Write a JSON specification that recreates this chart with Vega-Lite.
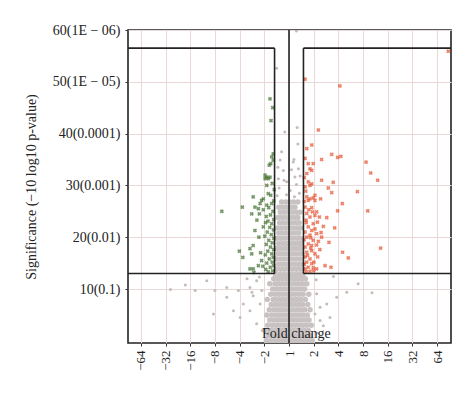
{
"$schema":"https://vega.github.io/schema/vega-lite/v6.json",
"width":323,"height":313,
"autosize":{"type":"none"},
"padding":{"left":128,"top":30,"right":23,"bottom":52},
"background":"white",
"datasets":{
"pts":[
{"fc":0.3,"sig":59.8,"grp":"ns"},{"fc":-0.5,"sig":52.6,"grp":"ns"},{"fc":0.33,"sig":41.2,"grp":"ns"},{"fc":-0.17,"sig":40.3,"grp":"ns"},{"fc":0.36,"sig":38.0,"grp":"ns"},{"fc":-0.3,"sig":36.5,"grp":"ns"},{"fc":0.2,"sig":35.0,"grp":"ns"},{"fc":-0.36,"sig":34.9,"grp":"ns"},{"fc":0.17,"sig":34.5,"grp":"ns"},{"fc":-0.45,"sig":33.5,"grp":"ns"},{"fc":-0.23,"sig":32.9,"grp":"ns"},{"fc":0.38,"sig":33.2,"grp":"ns"},{"fc":0.1,"sig":33.0,"grp":"ns"},{"fc":0.45,"sig":31.8,"grp":"ns"},{"fc":-0.43,"sig":31.3,"grp":"ns"},{"fc":0.24,"sig":31.6,"grp":"ns"},{"fc":-0.2,"sig":31.0,"grp":"ns"},{"fc":-0.09,"sig":30.7,"grp":"ns"},{"fc":0.3,"sig":30.2,"grp":"ns"},{"fc":-0.4,"sig":29.5,"grp":"ns"},{"fc":0.05,"sig":29.0,"grp":"ns"},{"fc":0.42,"sig":28.5,"grp":"ns"},{"fc":-0.1,"sig":28.2,"grp":"ns"},{"fc":-0.48,"sig":28.0,"grp":"ns"},{"fc":0.22,"sig":27.8,"grp":"ns"},
{"fc":-0.3,"sig":26.8,"grp":"ns"},{"fc":-0.13,"sig":26.8,"grp":"ns"},{"fc":0.03,"sig":26.8,"grp":"ns"},{"fc":0.19,"sig":26.8,"grp":"ns"},{"fc":0.36,"sig":26.8,"grp":"ns"},
{"fc":-0.41,"sig":25.8,"grp":"ns"},{"fc":-0.25,"sig":25.8,"grp":"ns"},{"fc":-0.08,"sig":25.8,"grp":"ns"},{"fc":0.08,"sig":25.8,"grp":"ns"},{"fc":0.24,"sig":25.8,"grp":"ns"},
{"fc":-0.35,"sig":24.8,"grp":"ns"},{"fc":-0.19,"sig":24.8,"grp":"ns"},{"fc":-0.02,"sig":24.8,"grp":"ns"},{"fc":0.13,"sig":24.8,"grp":"ns"},{"fc":0.3,"sig":24.8,"grp":"ns"},{"fc":0.44,"sig":24.8,"grp":"ns"},
{"fc":-0.44,"sig":23.8,"grp":"ns"},{"fc":-0.28,"sig":23.8,"grp":"ns"},{"fc":-0.12,"sig":23.8,"grp":"ns"},{"fc":0.04,"sig":23.8,"grp":"ns"},{"fc":0.2,"sig":23.8,"grp":"ns"},{"fc":0.36,"sig":23.8,"grp":"ns"},
{"fc":-0.38,"sig":22.8,"grp":"ns"},{"fc":-0.22,"sig":22.8,"grp":"ns"},{"fc":-0.06,"sig":22.8,"grp":"ns"},{"fc":0.1,"sig":22.8,"grp":"ns"},{"fc":0.26,"sig":22.8,"grp":"ns"},{"fc":0.41,"sig":22.8,"grp":"ns"},
{"fc":-0.47,"sig":21.8,"grp":"ns"},{"fc":-0.31,"sig":21.8,"grp":"ns"},{"fc":-0.15,"sig":21.8,"grp":"ns"},{"fc":0.02,"sig":21.8,"grp":"ns"},{"fc":0.17,"sig":21.8,"grp":"ns"},{"fc":0.33,"sig":21.8,"grp":"ns"},{"fc":0.47,"sig":21.8,"grp":"ns"},
{"fc":-0.41,"sig":20.8,"grp":"ns"},{"fc":-0.25,"sig":20.8,"grp":"ns"},{"fc":-0.09,"sig":20.8,"grp":"ns"},{"fc":0.07,"sig":20.8,"grp":"ns"},{"fc":0.23,"sig":20.8,"grp":"ns"},{"fc":0.39,"sig":20.8,"grp":"ns"},
{"fc":-0.49,"sig":19.8,"grp":"ns"},{"fc":-0.33,"sig":19.8,"grp":"ns"},{"fc":-0.17,"sig":19.8,"grp":"ns"},{"fc":0.0,"sig":19.8,"grp":"ns"},{"fc":0.15,"sig":19.8,"grp":"ns"},{"fc":0.31,"sig":19.8,"grp":"ns"},{"fc":0.45,"sig":19.8,"grp":"ns"},
{"fc":-0.42,"sig":18.8,"grp":"ns"},{"fc":-0.26,"sig":18.8,"grp":"ns"},{"fc":-0.1,"sig":18.8,"grp":"ns"},{"fc":0.06,"sig":18.8,"grp":"ns"},{"fc":0.22,"sig":18.8,"grp":"ns"},{"fc":0.38,"sig":18.8,"grp":"ns"},{"fc":0.5,"sig":18.8,"grp":"ns"},
{"fc":-0.5,"sig":17.8,"grp":"ns"},{"fc":-0.34,"sig":17.8,"grp":"ns"},{"fc":-0.18,"sig":17.8,"grp":"ns"},{"fc":-0.02,"sig":17.8,"grp":"ns"},{"fc":0.14,"sig":17.8,"grp":"ns"},{"fc":0.3,"sig":17.8,"grp":"ns"},{"fc":0.46,"sig":17.8,"grp":"ns"},
{"fc":-0.43,"sig":16.8,"grp":"ns"},{"fc":-0.27,"sig":16.8,"grp":"ns"},{"fc":-0.11,"sig":16.8,"grp":"ns"},{"fc":0.05,"sig":16.8,"grp":"ns"},{"fc":0.21,"sig":16.8,"grp":"ns"},{"fc":0.37,"sig":16.8,"grp":"ns"},{"fc":0.52,"sig":16.8,"grp":"ns"},
{"fc":-0.51,"sig":15.8,"grp":"ns"},{"fc":-0.35,"sig":15.8,"grp":"ns"},{"fc":-0.19,"sig":15.8,"grp":"ns"},{"fc":-0.03,"sig":15.8,"grp":"ns"},{"fc":0.13,"sig":15.8,"grp":"ns"},{"fc":0.29,"sig":15.8,"grp":"ns"},{"fc":0.45,"sig":15.8,"grp":"ns"},
{"fc":-0.42,"sig":14.8,"grp":"ns"},{"fc":-0.26,"sig":14.8,"grp":"ns"},{"fc":-0.1,"sig":14.8,"grp":"ns"},{"fc":0.06,"sig":14.8,"grp":"ns"},{"fc":0.22,"sig":14.8,"grp":"ns"},{"fc":0.38,"sig":14.8,"grp":"ns"},{"fc":0.53,"sig":14.8,"grp":"ns"},
{"fc":-0.5,"sig":13.8,"grp":"ns"},{"fc":-0.34,"sig":13.8,"grp":"ns"},{"fc":-0.18,"sig":13.8,"grp":"ns"},{"fc":-0.02,"sig":13.8,"grp":"ns"},{"fc":0.14,"sig":13.8,"grp":"ns"},{"fc":0.3,"sig":13.8,"grp":"ns"},{"fc":0.46,"sig":13.8,"grp":"ns"},
{"fc":-0.54,"sig":12.8,"grp":"ns"},{"fc":-0.38,"sig":12.8,"grp":"ns"},{"fc":-0.22,"sig":12.8,"grp":"ns"},{"fc":-0.06,"sig":12.8,"grp":"ns"},{"fc":0.1,"sig":12.8,"grp":"ns"},{"fc":0.26,"sig":12.8,"grp":"ns"},{"fc":0.42,"sig":12.8,"grp":"ns"},{"fc":0.56,"sig":12.8,"grp":"ns"},
{"fc":-0.62,"sig":12.0,"grp":"ns"},{"fc":-0.46,"sig":12.0,"grp":"ns"},{"fc":-0.3,"sig":12.0,"grp":"ns"},{"fc":-0.14,"sig":12.0,"grp":"ns"},{"fc":0.02,"sig":12.0,"grp":"ns"},{"fc":0.18,"sig":12.0,"grp":"ns"},{"fc":0.34,"sig":12.0,"grp":"ns"},{"fc":0.5,"sig":12.0,"grp":"ns"},{"fc":0.66,"sig":12.0,"grp":"ns"},
{"fc":-0.78,"sig":11.0,"grp":"ns"},{"fc":-0.57,"sig":11.0,"grp":"ns"},{"fc":-0.41,"sig":11.0,"grp":"ns"},{"fc":-0.25,"sig":11.0,"grp":"ns"},{"fc":-0.09,"sig":11.0,"grp":"ns"},{"fc":0.07,"sig":11.0,"grp":"ns"},{"fc":0.23,"sig":11.0,"grp":"ns"},{"fc":0.39,"sig":11.0,"grp":"ns"},{"fc":0.55,"sig":11.0,"grp":"ns"},{"fc":0.72,"sig":11.0,"grp":"ns"},
{"fc":-0.66,"sig":10.0,"grp":"ns"},{"fc":-0.49,"sig":10.0,"grp":"ns"},{"fc":-0.33,"sig":10.0,"grp":"ns"},{"fc":-0.17,"sig":10.0,"grp":"ns"},{"fc":-0.01,"sig":10.0,"grp":"ns"},{"fc":0.15,"sig":10.0,"grp":"ns"},{"fc":0.31,"sig":10.0,"grp":"ns"},{"fc":0.47,"sig":10.0,"grp":"ns"},{"fc":0.63,"sig":10.0,"grp":"ns"},
{"fc":-0.74,"sig":9.0,"grp":"ns"},{"fc":-0.56,"sig":9.0,"grp":"ns"},{"fc":-0.4,"sig":9.0,"grp":"ns"},{"fc":-0.24,"sig":9.0,"grp":"ns"},{"fc":-0.08,"sig":9.0,"grp":"ns"},{"fc":0.08,"sig":9.0,"grp":"ns"},{"fc":0.24,"sig":9.0,"grp":"ns"},{"fc":0.4,"sig":9.0,"grp":"ns"},{"fc":0.57,"sig":9.0,"grp":"ns"},{"fc":0.8,"sig":9.0,"grp":"ns"},
{"fc":-0.88,"sig":8.0,"grp":"ns"},{"fc":-0.64,"sig":8.0,"grp":"ns"},{"fc":-0.48,"sig":8.0,"grp":"ns"},{"fc":-0.32,"sig":8.0,"grp":"ns"},{"fc":-0.16,"sig":8.0,"grp":"ns"},{"fc":0.0,"sig":8.0,"grp":"ns"},{"fc":0.16,"sig":8.0,"grp":"ns"},{"fc":0.32,"sig":8.0,"grp":"ns"},{"fc":0.48,"sig":8.0,"grp":"ns"},{"fc":0.66,"sig":8.0,"grp":"ns"},
{"fc":-0.72,"sig":7.0,"grp":"ns"},{"fc":-0.55,"sig":7.0,"grp":"ns"},{"fc":-0.39,"sig":7.0,"grp":"ns"},{"fc":-0.23,"sig":7.0,"grp":"ns"},{"fc":-0.08,"sig":7.0,"grp":"ns"},{"fc":0.08,"sig":7.0,"grp":"ns"},{"fc":0.24,"sig":7.0,"grp":"ns"},{"fc":0.4,"sig":7.0,"grp":"ns"},{"fc":0.56,"sig":7.0,"grp":"ns"},{"fc":0.76,"sig":7.0,"grp":"ns"},
{"fc":-0.8,"sig":6.0,"grp":"ns"},{"fc":-0.62,"sig":6.0,"grp":"ns"},{"fc":-0.46,"sig":6.0,"grp":"ns"},{"fc":-0.31,"sig":6.0,"grp":"ns"},{"fc":-0.16,"sig":6.0,"grp":"ns"},{"fc":0.0,"sig":6.0,"grp":"ns"},{"fc":0.16,"sig":6.0,"grp":"ns"},{"fc":0.32,"sig":6.0,"grp":"ns"},{"fc":0.48,"sig":6.0,"grp":"ns"},{"fc":0.64,"sig":6.0,"grp":"ns"},{"fc":0.85,"sig":6.0,"grp":"ns"},
{"fc":-0.9,"sig":5.0,"grp":"ns"},{"fc":-0.7,"sig":5.0,"grp":"ns"},{"fc":-0.53,"sig":5.0,"grp":"ns"},{"fc":-0.38,"sig":5.0,"grp":"ns"},{"fc":-0.22,"sig":5.0,"grp":"ns"},{"fc":-0.07,"sig":5.0,"grp":"ns"},{"fc":0.09,"sig":5.0,"grp":"ns"},{"fc":0.25,"sig":5.0,"grp":"ns"},{"fc":0.4,"sig":5.0,"grp":"ns"},{"fc":0.56,"sig":5.0,"grp":"ns"},{"fc":0.74,"sig":5.0,"grp":"ns"},
{"fc":-0.78,"sig":4.0,"grp":"ns"},{"fc":-0.61,"sig":4.0,"grp":"ns"},{"fc":-0.45,"sig":4.0,"grp":"ns"},{"fc":-0.3,"sig":4.0,"grp":"ns"},{"fc":-0.15,"sig":4.0,"grp":"ns"},{"fc":0.01,"sig":4.0,"grp":"ns"},{"fc":0.17,"sig":4.0,"grp":"ns"},{"fc":0.33,"sig":4.0,"grp":"ns"},{"fc":0.49,"sig":4.0,"grp":"ns"},{"fc":0.65,"sig":4.0,"grp":"ns"},{"fc":0.81,"sig":4.0,"grp":"ns"},
{"fc":-0.86,"sig":3.0,"grp":"ns"},{"fc":-0.68,"sig":3.0,"grp":"ns"},{"fc":-0.52,"sig":3.0,"grp":"ns"},{"fc":-0.37,"sig":3.0,"grp":"ns"},{"fc":-0.21,"sig":3.0,"grp":"ns"},{"fc":-0.06,"sig":3.0,"grp":"ns"},{"fc":0.11,"sig":3.0,"grp":"ns"},{"fc":0.26,"sig":3.0,"grp":"ns"},{"fc":0.41,"sig":3.0,"grp":"ns"},{"fc":0.56,"sig":3.0,"grp":"ns"},{"fc":0.72,"sig":3.0,"grp":"ns"},{"fc":0.9,"sig":3.0,"grp":"ns"},
{"fc":-0.97,"sig":2.0,"grp":"ns"},{"fc":-0.76,"sig":2.0,"grp":"ns"},{"fc":-0.6,"sig":2.0,"grp":"ns"},{"fc":-0.44,"sig":2.0,"grp":"ns"},{"fc":-0.29,"sig":2.0,"grp":"ns"},{"fc":-0.14,"sig":2.0,"grp":"ns"},{"fc":0.03,"sig":2.0,"grp":"ns"},{"fc":0.18,"sig":2.0,"grp":"ns"},{"fc":0.33,"sig":2.0,"grp":"ns"},{"fc":0.48,"sig":2.0,"grp":"ns"},{"fc":0.63,"sig":2.0,"grp":"ns"},{"fc":0.79,"sig":2.0,"grp":"ns"},
{"fc":-0.83,"sig":1.0,"grp":"ns"},{"fc":-0.66,"sig":1.0,"grp":"ns"},{"fc":-0.5,"sig":1.0,"grp":"ns"},{"fc":-0.35,"sig":1.0,"grp":"ns"},{"fc":-0.2,"sig":1.0,"grp":"ns"},{"fc":-0.05,"sig":1.0,"grp":"ns"},{"fc":0.1,"sig":1.0,"grp":"ns"},{"fc":0.25,"sig":1.0,"grp":"ns"},{"fc":0.4,"sig":1.0,"grp":"ns"},{"fc":0.55,"sig":1.0,"grp":"ns"},{"fc":0.7,"sig":1.0,"grp":"ns"},{"fc":0.86,"sig":1.0,"grp":"ns"},
{"fc":-0.92,"sig":0.0,"grp":"ns"},{"fc":-0.74,"sig":0.0,"grp":"ns"},{"fc":-0.58,"sig":0.0,"grp":"ns"},{"fc":-0.43,"sig":0.0,"grp":"ns"},{"fc":-0.28,"sig":0.0,"grp":"ns"},{"fc":-0.13,"sig":0.0,"grp":"ns"},{"fc":0.02,"sig":0.0,"grp":"ns"},{"fc":0.17,"sig":0.0,"grp":"ns"},{"fc":0.32,"sig":0.0,"grp":"ns"},{"fc":0.47,"sig":0.0,"grp":"ns"},{"fc":0.62,"sig":0.0,"grp":"ns"},{"fc":0.78,"sig":0.0,"grp":"ns"},{"fc":0.93,"sig":0.0,"grp":"ns"},
{"fc":-3.0,"sig":9.7,"grp":"ns"},{"fc":-2.52,"sig":10.3,"grp":"ns"},{"fc":-2.05,"sig":9.7,"grp":"ns"},{"fc":-1.58,"sig":10.3,"grp":"ns"},{"fc":-1.31,"sig":11.6,"grp":"ns"},{"fc":-1.45,"sig":8.7,"grp":"ns"},{"fc":-1.85,"sig":7.1,"grp":"ns"},{"fc":-3.06,"sig":5.2,"grp":"ns"},{"fc":-2.25,"sig":5.8,"grp":"ns"},{"fc":-1.1,"sig":9.7,"grp":"ns"},{"fc":-3.33,"sig":11.6,"grp":"ns"},{"fc":1.12,"sig":9.1,"grp":"ns"},{"fc":1.53,"sig":7.1,"grp":"ns"},{"fc":1.26,"sig":6.5,"grp":"ns"},{"fc":1.93,"sig":8.4,"grp":"ns"},{"fc":1.66,"sig":4.5,"grp":"ns"},{"fc":1.26,"sig":3.9,"grp":"ns"},{"fc":2.34,"sig":9.4,"grp":"ns"},{"fc":1.39,"sig":2.9,"grp":"ns"},{"fc":-1.5,"sig":9.4,"grp":"ns"},{"fc":-1.17,"sig":7.1,"grp":"ns"},{"fc":-1.58,"sig":5.8,"grp":"ns"},{"fc":-1.31,"sig":3.3,"grp":"ns"},{"fc":-1.98,"sig":4.5,"grp":"ns"},{"fc":-2.52,"sig":8.4,"grp":"ns"},{"fc":-3.8,"sig":9.7,"grp":"ns"},{"fc":3.36,"sig":9.3,"grp":"ns"},{"fc":-1.2,"sig":12.3,"grp":"ns"},{"fc":1.1,"sig":11.8,"grp":"ns"},{"fc":1.05,"sig":5.2,"grp":"ns"},{"fc":-1.08,"sig":2.0,"grp":"ns"},{"fc":1.15,"sig":1.5,"grp":"ns"},{"fc":-4.2,"sig":10.8,"grp":"ns"},{"fc":2.8,"sig":11.0,"grp":"ns"},{"fc":-1.7,"sig":12.0,"grp":"ns"},{"fc":1.8,"sig":12.4,"grp":"ns"},{"fc":-4.8,"sig":9.9,"grp":"ns"},
{"fc":6.45,"sig":55.9,"grp":"up"},{"fc":2.06,"sig":49.2,"grp":"up"},{"fc":0.65,"sig":50.5,"grp":"up"},{"fc":1.19,"sig":40.7,"grp":"up"},{"fc":0.92,"sig":37.8,"grp":"up"},{"fc":0.72,"sig":37.1,"grp":"up"},{"fc":1.73,"sig":36.0,"grp":"up"},{"fc":2.1,"sig":35.6,"grp":"up"},{"fc":1.97,"sig":35.4,"grp":"up"},{"fc":0.65,"sig":35.2,"grp":"up"},{"fc":1.32,"sig":35.0,"grp":"up"},{"fc":3.12,"sig":34.5,"grp":"up"},{"fc":0.78,"sig":34.2,"grp":"up"},{"fc":0.98,"sig":34.2,"grp":"up"},{"fc":0.85,"sig":33.2,"grp":"up"},{"fc":0.92,"sig":32.9,"grp":"up"},{"fc":3.31,"sig":32.4,"grp":"up"},{"fc":0.72,"sig":32.3,"grp":"up"},{"fc":3.59,"sig":31.0,"grp":"up"},{"fc":1.32,"sig":31.0,"grp":"up"},{"fc":1.79,"sig":30.6,"grp":"up"},{"fc":0.78,"sig":30.7,"grp":"up"},{"fc":0.92,"sig":30.3,"grp":"up"},{"fc":0.85,"sig":30.0,"grp":"up"},{"fc":0.65,"sig":29.7,"grp":"up"},{"fc":1.59,"sig":29.5,"grp":"up"},{"fc":2.77,"sig":28.8,"grp":"up"},{"fc":1.73,"sig":28.6,"grp":"up"},{"fc":1.05,"sig":28.1,"grp":"up"},{"fc":0.72,"sig":27.8,"grp":"up"},{"fc":0.85,"sig":27.4,"grp":"up"},{"fc":0.98,"sig":27.6,"grp":"up"},{"fc":0.78,"sig":27.1,"grp":"up"},{"fc":1.05,"sig":27.1,"grp":"up"},{"fc":1.28,"sig":27.4,"grp":"up"},{"fc":2.16,"sig":26.5,"grp":"up"},{"fc":0.65,"sig":25.8,"grp":"up"},{"fc":0.92,"sig":25.7,"grp":"up"},{"fc":1.97,"sig":25.1,"grp":"up"},{"fc":3.19,"sig":25.1,"grp":"up"},{"fc":1.12,"sig":24.9,"grp":"up"},{"fc":1.05,"sig":24.2,"grp":"up"},{"fc":0.72,"sig":24.6,"grp":"up"},{"fc":0.85,"sig":23.9,"grp":"up"},{"fc":0.69,"sig":23.3,"grp":"up"},{"fc":1.53,"sig":23.8,"grp":"up"},{"fc":1.23,"sig":23.9,"grp":"up"},{"fc":1.39,"sig":22.1,"grp":"up"},{"fc":0.98,"sig":22.6,"grp":"up"},{"fc":0.78,"sig":22.0,"grp":"up"},{"fc":0.92,"sig":21.3,"grp":"up"},{"fc":1.05,"sig":21.6,"grp":"up"},{"fc":1.12,"sig":20.7,"grp":"up"},{"fc":0.65,"sig":21.0,"grp":"up"},{"fc":0.72,"sig":20.0,"grp":"up"},{"fc":0.85,"sig":20.4,"grp":"up"},{"fc":1.3,"sig":20.9,"grp":"up"},{"fc":1.32,"sig":20.0,"grp":"up"},{"fc":0.98,"sig":19.4,"grp":"up"},{"fc":1.19,"sig":19.2,"grp":"up"},{"fc":0.78,"sig":18.7,"grp":"up"},{"fc":0.92,"sig":18.4,"grp":"up"},{"fc":1.12,"sig":18.5,"grp":"up"},{"fc":3.71,"sig":17.9,"grp":"up"},{"fc":0.65,"sig":18.1,"grp":"up"},{"fc":0.72,"sig":17.1,"grp":"up"},{"fc":0.92,"sig":17.4,"grp":"up"},{"fc":1.05,"sig":16.8,"grp":"up"},{"fc":2.17,"sig":17.1,"grp":"up"},{"fc":1.16,"sig":16.2,"grp":"up"},{"fc":0.65,"sig":16.2,"grp":"up"},{"fc":0.85,"sig":15.8,"grp":"up"},{"fc":0.72,"sig":15.2,"grp":"up"},{"fc":0.92,"sig":14.9,"grp":"up"},{"fc":0.78,"sig":14.2,"grp":"up"},{"fc":0.98,"sig":14.1,"grp":"up"},{"fc":0.65,"sig":13.9,"grp":"up"},{"fc":0.85,"sig":13.4,"grp":"up"},{"fc":1.12,"sig":13.9,"grp":"up"},{"fc":2.4,"sig":16.0,"grp":"up"},{"fc":1.46,"sig":14.5,"grp":"up"},{"fc":1.7,"sig":14.2,"grp":"up"},{"fc":0.62,"sig":26.9,"grp":"up"},{"fc":0.7,"sig":22.8,"grp":"up"},{"fc":0.61,"sig":19.5,"grp":"up"},{"fc":0.88,"sig":19.9,"grp":"up"},{"fc":0.75,"sig":16.5,"grp":"up"},{"fc":0.62,"sig":14.8,"grp":"up"},{"fc":1.01,"sig":15.2,"grp":"up"},{"fc":0.68,"sig":28.9,"grp":"up"},{"fc":0.95,"sig":24.9,"grp":"up"},{"fc":0.8,"sig":25.3,"grp":"up"},{"fc":1.15,"sig":22.9,"grp":"up"},{"fc":0.62,"sig":31.5,"grp":"up"},{"fc":1.25,"sig":17.6,"grp":"up"},{"fc":0.88,"sig":17.9,"grp":"up"},{"fc":0.7,"sig":13.3,"grp":"up"},{"fc":1.0,"sig":13.5,"grp":"up"},{"fc":1.62,"sig":19.0,"grp":"up"},{"fc":1.85,"sig":21.8,"grp":"up"},
{"fc":-0.77,"sig":46.7,"grp":"down"},{"fc":-0.66,"sig":45.0,"grp":"down"},{"fc":-0.73,"sig":42.5,"grp":"down"},{"fc":-0.64,"sig":36.1,"grp":"down"},{"fc":-0.7,"sig":35.5,"grp":"down"},{"fc":-0.74,"sig":34.2,"grp":"down"},{"fc":-0.8,"sig":33.9,"grp":"down"},{"fc":-0.64,"sig":34.9,"grp":"down"},{"fc":-0.9,"sig":31.6,"grp":"down"},{"fc":-0.97,"sig":31.3,"grp":"down"},{"fc":-0.77,"sig":31.6,"grp":"down"},{"fc":-0.84,"sig":28.4,"grp":"down"},{"fc":-0.74,"sig":28.1,"grp":"down"},{"fc":-1.45,"sig":27.8,"grp":"down"},{"fc":-0.9,"sig":26.2,"grp":"down"},{"fc":-1.11,"sig":27.1,"grp":"down"},{"fc":-1.17,"sig":26.5,"grp":"down"},{"fc":-1.89,"sig":25.8,"grp":"down"},{"fc":-1.24,"sig":25.5,"grp":"down"},{"fc":-1.51,"sig":24.5,"grp":"down"},{"fc":-2.72,"sig":25.0,"grp":"down"},{"fc":-1.04,"sig":25.3,"grp":"down"},{"fc":-1.04,"sig":27.4,"grp":"down"},{"fc":-1.2,"sig":24.5,"grp":"down"},{"fc":-1.04,"sig":22.0,"grp":"down"},{"fc":-1.38,"sig":21.3,"grp":"down"},{"fc":-2.01,"sig":17.3,"grp":"down"},{"fc":-1.45,"sig":18.4,"grp":"down"},{"fc":-1.58,"sig":17.8,"grp":"down"},{"fc":-1.51,"sig":16.8,"grp":"down"},{"fc":-1.87,"sig":16.1,"grp":"down"},{"fc":-1.11,"sig":15.5,"grp":"down"},{"fc":-1.24,"sig":14.5,"grp":"down"},{"fc":-1.06,"sig":14.4,"grp":"down"},{"fc":-1.45,"sig":13.9,"grp":"down"},{"fc":-1.58,"sig":13.9,"grp":"down"},{"fc":-1.42,"sig":13.2,"grp":"down"},{"fc":-0.62,"sig":27.0,"grp":"down"},{"fc":-0.7,"sig":26.5,"grp":"down"},{"fc":-0.82,"sig":25.7,"grp":"down"},{"fc":-0.65,"sig":25.0,"grp":"down"},{"fc":-0.75,"sig":24.3,"grp":"down"},{"fc":-0.92,"sig":24.0,"grp":"down"},{"fc":-0.62,"sig":23.4,"grp":"down"},{"fc":-0.85,"sig":23.1,"grp":"down"},{"fc":-0.7,"sig":22.6,"grp":"down"},{"fc":-0.95,"sig":22.8,"grp":"down"},{"fc":-0.78,"sig":21.9,"grp":"down"},{"fc":-0.63,"sig":21.4,"grp":"down"},{"fc":-0.88,"sig":21.0,"grp":"down"},{"fc":-0.72,"sig":20.5,"grp":"down"},{"fc":-0.98,"sig":20.2,"grp":"down"},{"fc":-0.62,"sig":19.8,"grp":"down"},{"fc":-0.82,"sig":19.4,"grp":"down"},{"fc":-0.68,"sig":18.9,"grp":"down"},{"fc":-0.92,"sig":18.6,"grp":"down"},{"fc":-0.75,"sig":18.1,"grp":"down"},{"fc":-0.62,"sig":17.6,"grp":"down"},{"fc":-0.86,"sig":17.3,"grp":"down"},{"fc":-0.7,"sig":16.8,"grp":"down"},{"fc":-0.96,"sig":16.6,"grp":"down"},{"fc":-0.64,"sig":16.1,"grp":"down"},{"fc":-0.8,"sig":15.8,"grp":"down"},{"fc":-0.68,"sig":15.2,"grp":"down"},{"fc":-0.9,"sig":15.0,"grp":"down"},{"fc":-0.62,"sig":14.5,"grp":"down"},{"fc":-0.76,"sig":14.2,"grp":"down"},{"fc":-0.94,"sig":13.8,"grp":"down"},{"fc":-0.66,"sig":13.5,"grp":"down"},{"fc":-0.84,"sig":13.3,"grp":"down"},{"fc":-0.6,"sig":29.2,"grp":"down"},{"fc":-0.68,"sig":30.4,"grp":"down"},{"fc":-1.22,"sig":20.0,"grp":"down"},{"fc":-1.15,"sig":17.0,"grp":"down"},{"fc":-1.3,"sig":23.3,"grp":"down"},{"fc":-0.97,"sig":32.0,"grp":"down"},{"fc":-0.84,"sig":31.3,"grp":"down"},{"fc":-0.9,"sig":30.0,"grp":"down"},{"fc":-1.38,"sig":25.8,"grp":"down"}
],
"cuts":[
{"x1":0,"x2":0,"y1":-0.42,"y2":60},
{"x1":-6.52,"x2":-0.585,"y1":56.5,"y2":56.5},
{"x1":-0.585,"x2":-0.585,"y1":13,"y2":56.5},
{"x1":-6.52,"x2":-0.585,"y1":13,"y2":13},
{"x1":0.585,"x2":6.56,"y1":56.5,"y2":56.5},
{"x1":0.585,"x2":0.585,"y1":13,"y2":56.5},
{"x1":0.585,"x2":6.56,"y1":13,"y2":13}
],
"caption":[{"label":"Fold change","fc":0.3,"sig":0.55}]
},
"layer":[
{"data":{"name":"pts"},
 "transform":[{"filter":"datum.grp === 'ns' && abs(datum.fc) <= 1 && datum.sig < 27.5"}],
 "mark":{"type":"point","shape":"circle","filled":true,"size":30,"color":"#c9c2c2","opacity":1,"clip":true},
 "encoding":{
  "x":{"field":"fc","type":"quantitative","scale":{"domain":[-6.52,6.56],"nice":false,"zero":false},
   "axis":{"values":[-6,-5,-4,-3,-2,-1,0,1,2,3,4,5,6],"tickCount":20,"labelExpr":"datum.value < 0 ? '\u2212' + pow(2, -datum.value) : '' + pow(2, datum.value)","labelAngle":-90,"labelFontSize":13,"labelPadding":4,"labelOverlap":false,"labelFlush":false,"labelBound":false,"grid":true,"title":null}},
  "y":{"field":"sig","type":"quantitative","scale":{"domain":[-0.42,60],"nice":false,"zero":false},
   "axis":{"values":[10,20,30,40,50,60],"tickCount":10,"labelExpr":"datum.value == 10 ? '10(0.1)' : datum.value == 20 ? '20(0.01)' : datum.value == 30 ? '30(0.001)' : datum.value == 40 ? '40(0.0001)' : datum.value == 50 ? '50(1E \u2212 05)' : '60(1E \u2212 06)'","labelFontSize":14,"labelPadding":5,"labelOverlap":false,"labelFlush":false,"grid":true,"title":"Significance (\u221210 log10 p-value)","titleFontSize":14,"titlePadding":14}}
 }},
{"data":{"name":"pts"},
 "transform":[{"filter":"datum.grp === 'ns' && (abs(datum.fc) > 1 || datum.sig >= 27.5)"}],
 "mark":{"type":"point","shape":"circle","filled":true,"size":9,"color":"#c4bcbc","opacity":1,"clip":true},
 "encoding":{
  "x":{"field":"fc","type":"quantitative"},
  "y":{"field":"sig","type":"quantitative"}
 }},
{"data":{"name":"pts"},
 "transform":[{"filter":"datum.grp !== 'ns'"}],
 "mark":{"type":"point","shape":"cross","angle":45,"filled":true,"size":18,"clip":true},
 "encoding":{
  "x":{"field":"fc","type":"quantitative"},
  "y":{"field":"sig","type":"quantitative"},
  "color":{"field":"grp","type":"nominal","scale":{"domain":["down","up"],"range":["#3f6e2c","#e4502c"]},"legend":null}
 }},
{"data":{"name":"cuts"},
 "mark":{"type":"rule","color":"#222222","strokeWidth":1.6},
 "encoding":{
  "x":{"field":"x1","type":"quantitative"},
  "x2":{"field":"x2"},
  "y":{"field":"y1","type":"quantitative"},
  "y2":{"field":"y2"}
 }},
{"data":{"name":"caption"},
 "mark":{"type":"text","font":"Liberation Serif","fontSize":14,"color":"#222222","baseline":"alphabetic","align":"center"},
 "encoding":{
  "x":{"field":"fc","type":"quantitative"},
  "y":{"field":"sig","type":"quantitative"},
  "text":{"field":"label"}
 }}
],
"config":{
 "view":{"stroke":"#222222","strokeWidth":1.6},
 "axis":{"labelFont":"Liberation Serif","titleFont":"Liberation Serif","labelColor":"#222222","titleColor":"#222222","titleFontWeight":"normal","domain":false,"ticks":true,"tickColor":"#333333","tickSize":3,"gridColor":"#ead9d9","gridWidth":1}
}
}
